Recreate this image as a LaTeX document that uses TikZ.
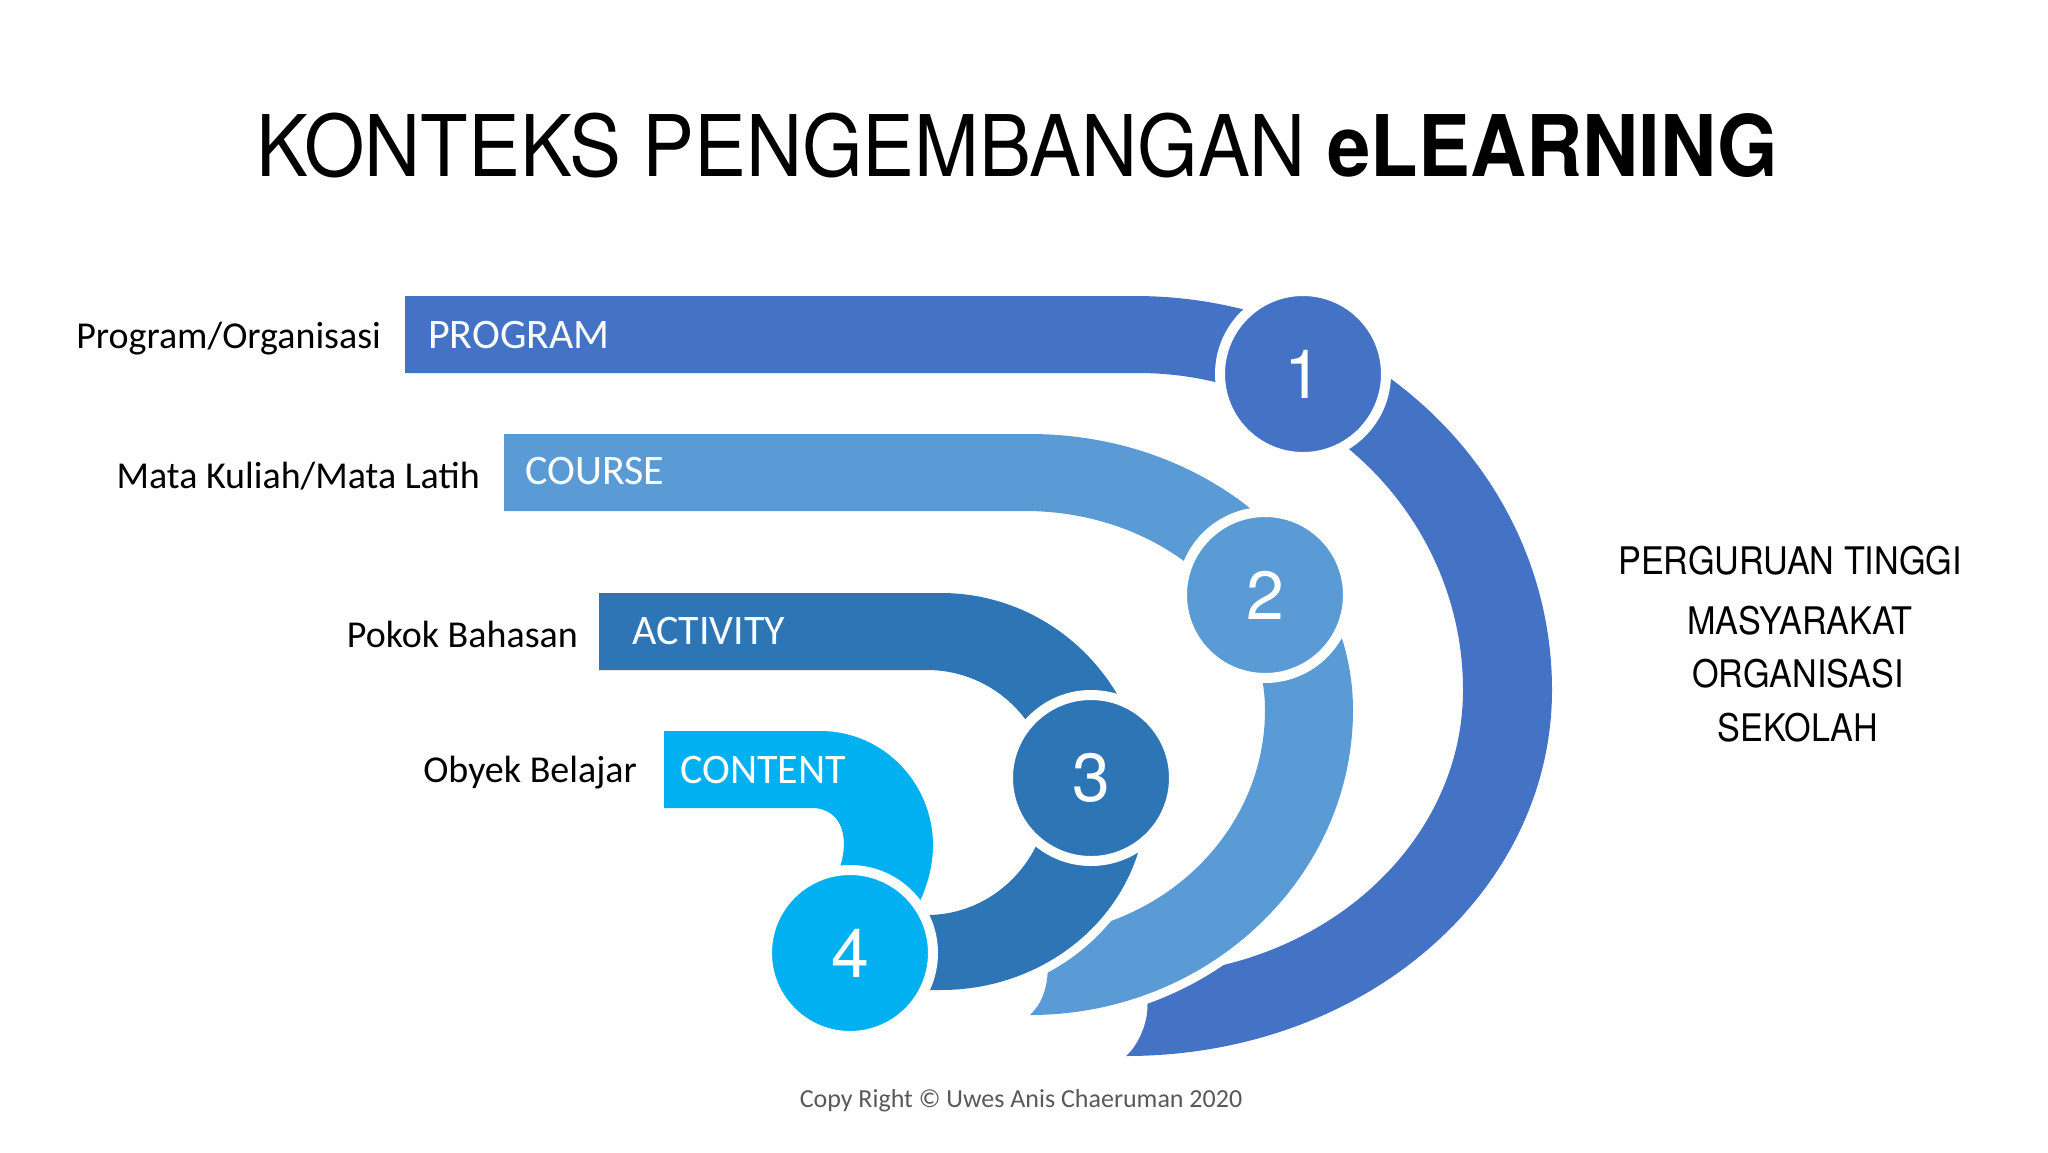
\documentclass[tikz,border=0pt]{standalone}
\usepackage{fontspec}
\setmainfont{TeX Gyre Heros}
\newfontfamily\calfont{Carlito}
\definecolor{cone}{HTML}{4472C4}
\definecolor{ctwo}{HTML}{5B9BD5}
\definecolor{cthree}{HTML}{2E75B6}
\definecolor{cfour}{HTML}{00B0F0}
\definecolor{copygray}{HTML}{595959}
\tikzset{
  band/.style={line join=round, preaction={draw=white, line width=18pt}},
  numdisk/.style={circle, minimum size=166pt, inner sep=0pt, draw=white, line width=10pt,
    text=white, font=\fontsize{68}{80}\selectfont},
  lefttext/.style={anchor=base east, font=\calfont\fontsize{38}{44}\selectfont},
  bartext/.style={anchor=base west, text=white, font=\calfont\fontsize{42}{48}\selectfont},
  righttext/.style={anchor=base, font=\fontsize{38}{44}\selectfont}
}
\begin{document}
\begin{tikzpicture}[x=1pt,y=-1pt]
\useasboundingbox (0,0) rectangle (2048,1152);
\fill[white] (0,0) rectangle (2048,1152);

% title
\node (title) [anchor=base, font=\fontsize{85}{100}\selectfont, inner sep=0pt] at (1017,176)
  {\scalebox{0.915}[1]{KONTEKS PENGEMBANGAN \textbf{eLEARNING}}};

% band 1
\fill[cone, band] (405,296) -- (1135,296) .. controls (1365,296) and (1552,472) .. (1552,690)
  .. controls (1552,892) and (1365,1056) .. (1126,1056)
  .. controls (1138,1046) and (1150,1020) .. (1147,1000) -- (1138,975)
  .. controls (1317,975) and (1463,847) .. (1463,690)
  .. controls (1463,515) and (1317,373) .. (1138,373) -- (405,373) -- cycle;

% band 2
\fill[ctwo, band] (504,434) -- (1030,434) .. controls (1208,434) and (1353,558) .. (1353,710)
  .. controls (1353,878) and (1208,1015) .. (1030,1015)
  .. controls (1040,1005) and (1048,992) .. (1048,963) -- (1025,936)
  .. controls (1157,936) and (1265,835) .. (1265,710)
  .. controls (1265,600) and (1157,511) .. (1025,511) -- (504,511) -- cycle;

% band 3
\fill[cthree, band] (599,593) -- (941,593) .. controls (1054,593) and (1146,686) .. (1146,800)
  .. controls (1146,905) and (1054,990) .. (941,990)
  .. controls (910,990) and (890,993) .. (870,997) -- (870,915) -- (927,915)
  .. controls (994,915) and (1049,859) .. (1049,790)
  .. controls (1049,724) and (994,670) .. (927,670) -- (599,670) -- cycle;

% band 4
\fill[cfour, band] (664,731) -- (820,731) .. controls (885,731) and (933,785) .. (933,845)
  .. controls (933,870) and (925,895) .. (910,920) -- (850,930) -- (838,872)
  .. controls (847,852) and (850,812) .. (815,808) -- (664,808) -- cycle;

% number circles
\node (n1) [numdisk, fill=cone] at (1303,374) {1};
\node (n2) [numdisk, fill=ctwo] at (1265,595) {2};
\node (n3) [numdisk, fill=cthree] at (1091,778) {3};
\node (n4) [numdisk, fill=cfour] at (850,953) {4};

% bar texts
\node (tprogram) [bartext, inner sep=0pt] at (428,348) {PROGRAM};
\node (tcourse) [bartext, inner sep=0pt] at (525,484) {COURSE};
\node (tactivity) [bartext, inner sep=0pt] at (632,644) {ACTIVITY};
\node (tcontent) [bartext, inner sep=0pt] at (680,783) {CONTENT};

% left labels
\node (lprogram) [lefttext, inner sep=0pt] at (381,348) {Program/Organisasi};
\node (lcourse) [lefttext, inner sep=0pt] at (480,488) {Mata Kuliah/Mata Latih};
\node (lactivity) [lefttext, inner sep=0pt] at (578,647) {Pokok Bahasan};
\node (lcontent) [lefttext, inner sep=0pt] at (637,782) {Obyek Belajar};

% right texts
\node (r1) [righttext, inner sep=0pt] at (1790,574) {\scalebox{0.9}[1]{PERGURUAN TINGGI}};
\node (r2) [righttext, inner sep=0pt] at (1800,634) {\scalebox{0.9}[1]{MASYARAKAT}};
\node (r3) [righttext, inner sep=0pt] at (1798,687) {\scalebox{0.9}[1]{ORGANISASI}};
\node (r4) [righttext, inner sep=0pt] at (1798,741) {\scalebox{0.9}[1]{SEKOLAH}};

% copyright
\node (copy) [anchor=base, inner sep=0pt, text=copygray, font=\calfont\fontsize{26}{30}\selectfont]
  at (1021,1107) {Copy Right © Uwes Anis Chaeruman 2020};
\end{tikzpicture}
\end{document}
